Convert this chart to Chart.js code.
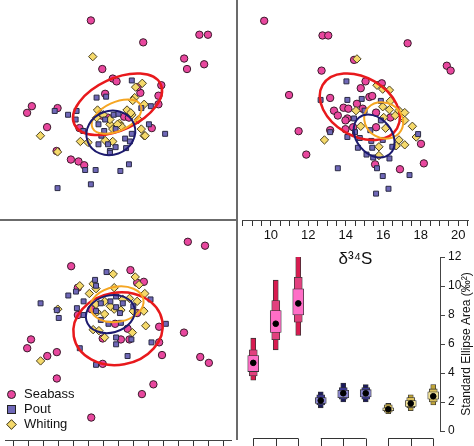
<!DOCTYPE html>
<html>
<head>
<meta charset="utf-8">
<script src="https://cdn.jsdelivr.net/npm/chart.js@4.4.1/dist/chart.umd.min.js"></script>
<style>
  body { margin: 0; background: #fff; font-family: "Liberation Sans", Arial, sans-serif; }
  #wrap { position: relative; width: 474px; height: 446px; overflow: hidden; }
  canvas { position: absolute; }
  .line { position: absolute; background: #6b6b6b; }
  #legend { position: absolute; left: 7px; top: 386px; font-size: 13px; color: #111; line-height: 15px; }
  #legend div { height: 15px; }
  .mk { display: inline-block; width: 7px; height: 7px; border: 1px solid #222; margin-right: 8px; vertical-align: -1px; }
</style>
</head>
<body>
<div id="wrap">
  <canvas id="cA" width="236" height="220" style="left:0;top:0"></canvas>
  <canvas id="cC" width="237" height="226" style="left:0;top:220px"></canvas>
  <canvas id="cD" width="237" height="226" style="left:237px;top:220px"></canvas>
  <canvas id="cB" width="237" height="270" style="left:237px;top:0"></canvas>
  <div class="line" style="left:236px;top:0;width:2px;height:440px"></div>
  <div class="line" style="left:0;top:219px;width:237px;height:2px"></div>
  <div id="legend">
    <div><span class="mk" style="background:#e8479e;border-radius:50%"></span>Seabass</div>
    <div><span class="mk" style="background:#6f68b8"></span>Pout</div>
    <div><span class="mk" style="background:#f5d96a;transform:rotate(45deg) scale(0.85)"></span>Whiting</div>
  </div>
</div>
<script>
// ---- data (panel units: x 0-237, y 0-220 from the top) ----
const seabassA = [[90,16],[204,31],[213,31],[145,39],[188,56],[191,67],[209,62],[102,67],[113,77],[117,80],[105,93],[142,92],[139,86],[164,84],[161,104],[28,106],[23,113],[55,108],[44,128],[78,129],[108,118],[102,116],[125,117],[130,118],[69,162],[77,164],[83,168],[154,129],[161,95],[54,153]];
const poutA = [[133,79],[96,97],[106,96],[52,111],[66,115],[75,111],[74,120],[82,132],[98,125],[104,132],[114,115],[119,114],[105,120],[101,137],[98,146],[108,146],[110,153],[116,149],[110,155],[127,150],[126,140],[131,143],[133,135],[151,125],[168,135],[130,167],[84,173],[95,173],[121,174],[90,188],[55,192],[153,106],[143,108],[116,130]];
const whitingA = [[92,54],[144,82],[137,86],[136,97],[134,100],[146,104],[97,110],[103,115],[96,118],[128,110],[133,115],[140,120],[110,125],[120,124],[113,130],[146,137],[143,130],[147,137],[37,137],[55,154],[79,143],[87,144],[105,142],[113,143],[122,127],[110,120],[118,125],[132,113]];
const seabassB = [[23,16],[84,31],[90,31],[173,39],[117,56],[214,62],[218,67],[83,67],[49,92],[129,78],[124,85],[133,94],[136,93],[92,95],[96,108],[100,113],[106,105],[111,106],[110,116],[120,101],[126,106],[108,118],[140,110],[92,128],[108,127],[116,125],[59,129],[67,153],[187,142],[190,162],[165,168],[139,163],[146,80],[155,115],[140,125]];
const poutB = [[109,78],[82,97],[110,97],[125,96],[145,98],[128,108],[117,116],[92,130],[110,135],[118,130],[134,128],[145,118],[157,145],[121,146],[135,139],[147,138],[130,153],[137,156],[154,157],[100,167],[141,167],[147,175],[153,188],[140,193],[175,174],[184,132],[136,146],[123,136]];
const whitingB = [[120,55],[141,82],[147,86],[154,87],[155,98],[147,104],[154,107],[119,108],[164,108],[170,118],[178,124],[182,135],[170,143],[164,138],[86,138],[124,124],[160,113],[148,115],[170,110],[150,126],[143,145],[161,144],[143,154]];
const seabassC = [[191,17],[209,21],[69,42],[131,46],[145,58],[138,59],[76,64],[76,92],[90,86],[115,101],[128,106],[138,90],[161,104],[161,120],[164,133],[187,110],[27,117],[23,126],[44,134],[54,130],[102,116],[121,117],[130,117],[54,157],[204,135],[213,141],[155,163],[143,173],[90,197],[102,142]];
const poutC = [[106,48],[94,56],[95,62],[66,72],[74,68],[37,80],[54,87],[56,95],[75,85],[82,78],[82,92],[95,88],[100,80],[110,78],[116,73],[116,84],[123,80],[134,83],[152,76],[100,97],[108,101],[121,100],[116,115],[116,122],[132,117],[153,120],[168,101],[78,126],[95,143],[128,134],[120,90]];
const whitingC = [[113,50],[136,53],[78,62],[92,60],[95,65],[88,70],[114,64],[140,61],[146,70],[130,75],[104,78],[123,76],[95,81],[96,89],[104,91],[114,86],[134,88],[138,78],[145,88],[55,86],[37,139],[92,107],[98,108],[104,115],[133,110],[147,103],[121,87],[110,83]];
// ellipses: [cx, cy, semi-x, semi-y, angle deg]
const ellA = { seabass: [118,104,50,27,-25], whiting: [117,117,28,15,-25], pout: [111,134,26,23,-20] };
const ellB = { seabass: [123,104,45,30,30], whiting: [148,118,21,18,30], pout: [138,134,25,18,50] };
const ellC = { seabass: [118,106,47,37,-10], whiting: [117,81,28,18,-10], pout: [110,91,26,19,-15] };

// delta34S axis of the top-right panel
const d34Ticks = [8.5,9,9.5,10,10.5,11,11.5,12,12.5,13,13.5,14,14.5,15,15.5,16,16.5,17,17.5,18,18.5,19,19.5,20,20.5];
const d34Labels = [10,12,14,16,18,20];

// SEA posterior summaries (‰²)
const groupPos = [1,2,3,4,5,6,7,8,9];
const seaMode = [4.7,7.4,8.8,2.1,2.6,2.6,1.5,1.9,2.4];
const sea95 = [[3.5,6.4],[5.6,10.4],[6.6,12.1],[1.6,2.7],[2.0,3.3],[2.0,3.2],[1.2,1.9],[1.4,2.5],[1.8,3.2]];
const sea75 = [[3.8,5.6],[6.3,9.0],[7.5,10.6],[1.8,2.5],[2.2,3.0],[2.2,3.0],[1.3,1.8],[1.6,2.3],[2.0,2.9]];
const sea50 = [[4.1,5.2],[6.8,8.3],[8.0,9.8],[1.9,2.3],[2.3,2.8],[2.35,2.85],[1.4,1.6],[1.7,2.1],[2.2,2.7]];
const seaTicks = [0,2,4,6,8,10,12];

const col = {
  seabass: '#e8479e', pout: '#6f68b8', whiting: '#f5d96a',
  eSeabass: '#e8191c', ePout: '#1c1a6e', eWhiting: '#f5a623'
};

const ellipsePlugin = {
  id: 'ellipses',
  afterDatasetsDraw(chart, args, opts) {
    const xs = chart.scales.x, ys = chart.scales.y, ctx = chart.ctx;
    const sx = Math.abs(xs.getPixelForValue(1) - xs.getPixelForValue(0));
    const sy = Math.abs(ys.getPixelForValue(1) - ys.getPixelForValue(0));
    (opts.list || []).forEach(e => {
      const [cx, cy, rx, ry, a] = e.p;
      ctx.save();
      ctx.beginPath();
      ctx.ellipse(xs.getPixelForValue(cx), ys.getPixelForValue(cy), rx * sx, ry * sy, a * Math.PI / 180, 0, 2 * Math.PI);
      ctx.strokeStyle = e.c; ctx.lineWidth = e.w;
      ctx.stroke();
      ctx.restore();
    });
  }
};

function pts(a) { return a.map(p => ({ x: p[0], y: p[1] })); }

function makeScatter(id, s, p, w, ell, xOpts) {
  return new Chart(document.getElementById(id), {
    type: 'scatter',
    data: {
      datasets: [
        { data: pts(p), pointStyle: 'rect', pointRadius: 3.5, backgroundColor: col.pout, borderColor: '#2a2a44', borderWidth: 1 },
        { data: pts(w), pointStyle: 'rectRot', pointRadius: 4.2, backgroundColor: col.whiting, borderColor: '#4a4020', borderWidth: 1 },
        { data: pts(s), pointStyle: 'circle', pointRadius: 3.7, backgroundColor: col.seabass, borderColor: '#3a1a2a', borderWidth: 1 }
      ]
    },
    options: {
      responsive: false, animation: false,
      layout: { padding: 0 },
      plugins: {
        legend: { display: false }, tooltip: { enabled: false },
        ellipses: { list: [
          { p: ell.seabass, c: col.eSeabass, w: 2.5 },
          { p: ell.whiting, c: col.eWhiting, w: 2 },
          { p: ell.pout, c: col.ePout, w: 2 }
        ] }
      },
      scales: {
        x: Object.assign({ type: 'linear', min: 0, max: 237, display: false }, xOpts || {}),
        y: { type: 'linear', min: 0, max: 220, reverse: true, display: false }
      }
    },
    plugins: [ellipsePlugin]
  });
}

makeScatter('cA', seabassA, poutA, whitingA, ellA);

makeScatter('cB', seabassB, poutB, whitingB, ellB, {
  display: true,
  afterFit: s => { s.height = 50; },
  afterBuildTicks: s => { s.ticks = d34Ticks.map(d => ({ value: (d - 8.47) * 19.6 })); },
  ticks: {
    autoSkip: false, maxRotation: 0, padding: 2, color: '#111',
    font: { size: 13, family: 'Liberation Sans' },
    callback: (v, i) => d34Labels.includes(d34Ticks[i]) ? String(d34Ticks[i]) : ''
  },
  grid: { drawOnChartArea: false, tickLength: 6, color: '#333' },
  border: { color: '#444', width: 1 },
  title: { display: true, text: 'δ³⁴S', color: '#111', font: { size: 17, family: 'Liberation Sans' }, padding: 0 }
});

const cTicks = [8.3,24,39.7,55.4,71.1,86.8,102.5,118.2,133.9,149.6,165.3,181,196.7,212.4,228.1];
makeScatter('cC', seabassC, poutC, whitingC, ellC, {
  display: true,
  afterFit: s => { s.height = 6; },
  afterBuildTicks: s => { s.ticks = cTicks.map(v => ({ value: v })); },
  ticks: { autoSkip: false, callback: () => '' },
  grid: { drawOnChartArea: false, tickLength: 6, color: '#333' },
  border: { color: '#444', width: 1 }
});

// bottom-right: SEA box plots
const seaCol95 = ['#d81b50','#d81b50','#d81b50','#1b1a5c','#1b1a5c','#1b1a5c','#c0a53a','#c0a53a','#c0a53a'];
const seaCol75 = ['#e2407e','#e2407e','#e2407e','#3b3890','#3b3890','#3b3890','#d9bf5c','#d9bf5c','#d9bf5c'];
const seaCol50 = ['#ff6ec7','#ff6ec7','#ff6ec7','#8a86cf','#8a86cf','#8a86cf','#f2e39a','#f2e39a','#f2e39a'];

const bracketPlugin = {
  id: 'brackets',
  afterDraw(chart) {
    const ctx = chart.ctx, xs = chart.scales.x;
    ctx.save();
    ctx.strokeStyle = '#333'; ctx.lineWidth = 1;
    [[1,3],[4,6],[7,9]].forEach(g => {
      const y0 = 218.5;
      ctx.beginPath();
      ctx.moveTo(xs.getPixelForValue(g[0]), y0); ctx.lineTo(xs.getPixelForValue(g[1]), y0);
      for (let k = g[0]; k <= g[1]; k++) {
        const x = Math.round(xs.getPixelForValue(k)) + 0.5;
        ctx.moveTo(x, y0); ctx.lineTo(x, 228);
      }
      ctx.stroke();
    });
    // right axis title, reading bottom to top
    const ys = chart.scales.y;
    ctx.translate(233, (ys.top + ys.bottom) / 2);
    ctx.rotate(-Math.PI / 2);
    ctx.fillStyle = '#111';
    ctx.font = '12px "Liberation Sans"';
    ctx.textAlign = 'center';
    ctx.fillText('Standard Ellipse Area (‰²)', 0, 0);
    ctx.restore();
  }
};

function bars(ranges, colors, thick, order) {
  return {
    type: 'bar', grouped: false, barThickness: thick, order: order,
    data: groupPos.map((x, i) => ({ x: x, y: ranges[i] })),
    backgroundColor: colors, borderColor: '#333', borderWidth: 0.8, borderSkipped: false
  };
}

new Chart(document.getElementById('cD'), {
  type: 'bar',
  data: {
    datasets: [
      { type: 'scatter', order: 0, data: groupPos.map((x, i) => ({ x: x, y: seaMode[i] })), pointRadius: 2.8, backgroundColor: '#000', borderColor: '#000' },
      bars(sea50, seaCol50, 11, 1),
      bars(sea75, seaCol75, 8, 2),
      bars(sea95, seaCol95, 5, 3)
    ]
  },
  options: {
    responsive: false, animation: false,
    layout: { padding: { top: 37, bottom: 15, left: 0, right: 0 } },
    plugins: { legend: { display: false }, tooltip: { enabled: false } },
    scales: {
      x: { type: 'linear', min: 0.5, max: 9.3, offset: false, display: false },
      y: {
        position: 'right', min: 0, max: 12,
        afterFit: s => { s.width = 34; },
        afterBuildTicks: s => { s.ticks = seaTicks.map(v => ({ value: v })); },
        ticks: { color: '#111', font: { size: 12, family: 'Liberation Sans' }, padding: 3 },
        grid: { drawOnChartArea: false, tickLength: 5, color: '#444' },
        border: { color: '#444' }
      }
    }
  },
  plugins: [bracketPlugin]
});
</script>
</body>
</html>
